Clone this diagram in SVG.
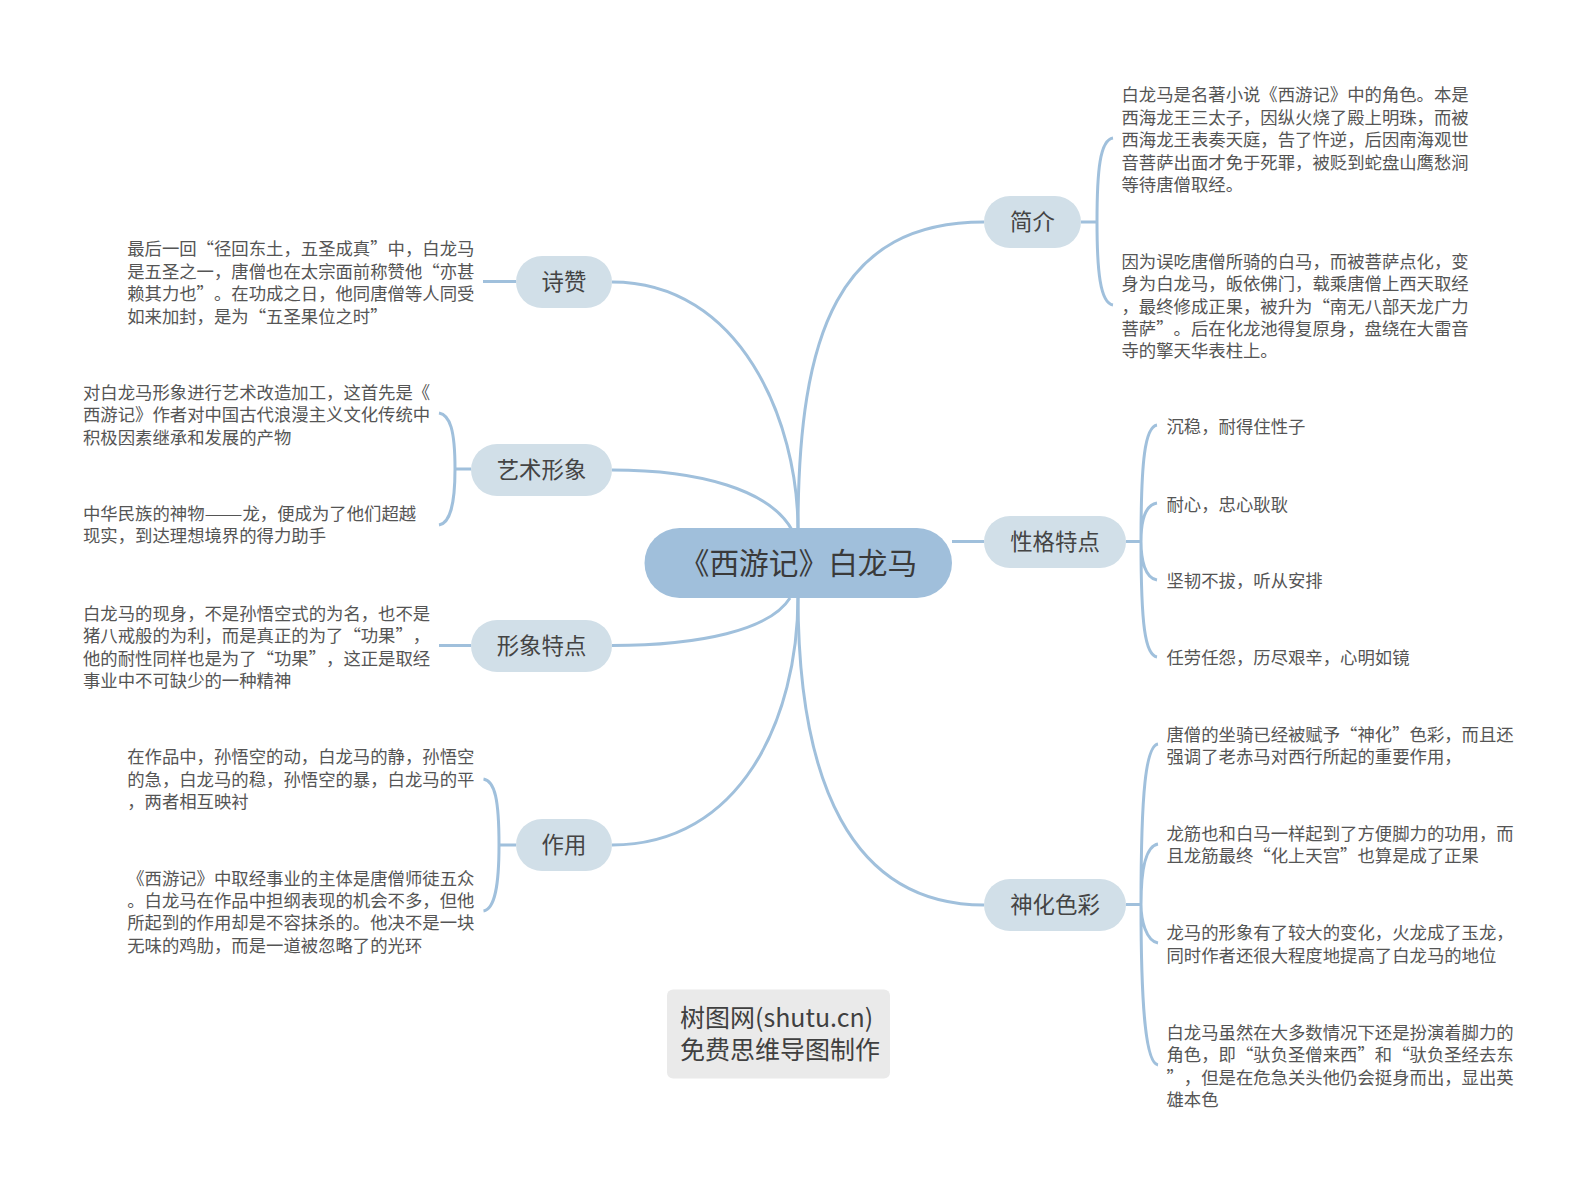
<svg xmlns="http://www.w3.org/2000/svg" width="1596" height="1192" viewBox="0 0 1596 1192">
<style>
text{font-family:"Noto Sans CJK SC","Noto Sans",sans-serif;text-spacing-trim:space-all;}
.leaf{font-size:17.36px;fill:#555555;}
.sub{font-size:22.4px;fill:#444444;text-anchor:middle;}
.subn{fill:#d1dfe8;}
.conn{fill:none;stroke:#a0c0dc;stroke-width:3;stroke-linecap:butt;}
</style>
<rect width="1596" height="1192" fill="#ffffff"/>
<g id="connectors">
<path class="conn" d="M798 530C798 330 840 222 984 222"/>
<path class="conn" d="M798 530C798 420 740 282 612 282"/>
<path class="conn" d="M792 530C770 490 700 470 612 470"/>
<path class="conn" d="M790 598C770 630 700 645.500 612 645.500"/>
<path class="conn" d="M798 596C798 720 740 845 612 845"/>
<path class="conn" d="M798 596C798 780 850 905 984 905"/>
<path class="conn" d="M952 541.500H984"/>
<path class="conn" d="M1081 222H1097M1113 138C1100 140 1097 170 1097 222C1097 270 1100 303 1113 305"/>
<path class="conn" d="M1126 541.500H1141M1157 425C1145 427 1141 460 1141 541.500C1141 625 1145 655 1157 657M1157 503C1145 505 1141 520 1141 541.500C1141 560 1145 578 1157 580"/>
<path class="conn" d="M1126 904.500H1141M1158 744C1146 746 1141 790 1141 904.500C1141 1010 1146 1063 1158 1065M1158 844C1146 846 1141 870 1141 904.500C1141 920 1146 941 1158 943"/>
<path class="conn" d="M516 281.500H483"/>
<path class="conn" d="M471 469H455M439 413C450 415 455 430 455 469C455 505 450 523 439 525"/>
<path class="conn" d="M471 645.500H439"/>
<path class="conn" d="M516 845H499M483.500 779C495 781 499 800 499 845C499 885 495 909 483.500 911"/>
</g>
<g id="root"><rect x="644.500" y="528" width="307.500" height="70" rx="35" fill="#a0bfdb"/><text x="798.500" y="574" font-size="29.700" fill="#3a3a3a" text-anchor="middle">《西游记》白龙马</text></g>
<g id="n-jianjie"><rect class="subn" x="984" y="196" width="97" height="52" rx="26"/><text class="sub" x="1032.500" y="230">简介</text></g>
<g id="n-xingge"><rect class="subn" x="984" y="516" width="142" height="52" rx="26"/><text class="sub" x="1055" y="550">性格特点</text></g>
<g id="n-shenhua"><rect class="subn" x="984" y="879" width="142" height="52" rx="26"/><text class="sub" x="1055" y="913">神化色彩</text></g>
<g id="n-shizan"><rect class="subn" x="516" y="256" width="96" height="52" rx="26"/><text class="sub" x="564" y="290">诗赞</text></g>
<g id="n-yishu"><rect class="subn" x="471" y="444" width="141" height="52" rx="26"/><text class="sub" x="541.500" y="478">艺术形象</text></g>
<g id="n-xingxiang"><rect class="subn" x="471" y="620" width="141" height="52" rx="26"/><text class="sub" x="541.500" y="654">形象特点</text></g>
<g id="n-zuoyong"><rect class="subn" x="516" y="819" width="96" height="52" rx="26"/><text class="sub" x="564" y="853">作用</text></g>
<g id="l-jj1"><text class="leaf" y="101.300"><tspan x="1121.500" dy="0">白龙马是名著小说《西游记》中的角色。本是</tspan><tspan x="1121.500" dy="22.400">西海龙王三太子，因纵火烧了殿上明珠，而被</tspan><tspan x="1121.500" dy="22.400">西海龙王表奏天庭，告了忤逆，后因南海观世</tspan><tspan x="1121.500" dy="22.400">音菩萨出面才免于死罪，被贬到蛇盘山鹰愁涧</tspan><tspan x="1121.500" dy="22.400">等待唐僧取经。</tspan></text></g>
<g id="l-jj2"><text class="leaf" y="267.700"><tspan x="1121.500" dy="0">因为误吃唐僧所骑的白马，而被菩萨点化，变</tspan><tspan x="1121.500" dy="22.400">身为白龙马，皈依佛门，载乘唐僧上西天取经</tspan><tspan x="1121.500" dy="22.400">，最终修成正果，被升为“南无八部天龙广力</tspan><tspan x="1121.500" dy="22.400">菩萨”。后在化龙池得复原身，盘绕在大雷音</tspan><tspan x="1121.500" dy="22.400">寺的擎天华表柱上。</tspan></text></g>
<g id="l-xg1"><text class="leaf" x="1166.500" y="433">沉稳，耐得住性子</text></g>
<g id="l-xg2"><text class="leaf" x="1166.500" y="511">耐心，忠心耿耿</text></g>
<g id="l-xg3"><text class="leaf" x="1166.500" y="587">坚韧不拔，听从安排</text></g>
<g id="l-xg4"><text class="leaf" x="1166.500" y="664">任劳任怨，历尽艰辛，心明如镜</text></g>
<g id="l-sh1"><text class="leaf" y="741"><tspan x="1166.500" dy="0">唐僧的坐骑已经被赋予“神化”色彩，而且还</tspan><tspan x="1166.500" dy="22.400">强调了老赤马对西行所起的重要作用，</tspan></text></g>
<g id="l-sh2"><text class="leaf" y="840"><tspan x="1166.500" dy="0">龙筋也和白马一样起到了方便脚力的功用，而</tspan><tspan x="1166.500" dy="22.400">且龙筋最终“化上天宫”也算是成了正果</tspan></text></g>
<g id="l-sh3"><text class="leaf" y="939.300"><tspan x="1166.500" dy="0">龙马的形象有了较大的变化，火龙成了玉龙，</tspan><tspan x="1166.500" dy="22.400">同时作者还很大程度地提高了白龙马的地位</tspan></text></g>
<g id="l-sh4"><text class="leaf" y="1038.700"><tspan x="1166.500" dy="0">白龙马虽然在大多数情况下还是扮演着脚力的</tspan><tspan x="1166.500" dy="22.400">角色，即“驮负圣僧来西”和“驮负圣经去东</tspan><tspan x="1166.500" dy="22.400">”，但是在危急关头他仍会挺身而出，显出英</tspan><tspan x="1166.500" dy="22.400">雄本色</tspan></text></g>
<g id="l-sz"><text class="leaf" y="255.400"><tspan x="127.200" dy="0">最后一回“径回东土，五圣成真”中，白龙马</tspan><tspan x="127.200" dy="22.400">是五圣之一，唐僧也在太宗面前称赞他“亦甚</tspan><tspan x="127.200" dy="22.400">赖其力也”。在功成之日，他同唐僧等人同受</tspan><tspan x="127.200" dy="22.400">如来加封，是为“五圣果位之时”</tspan></text></g>
<g id="l-ys1"><text class="leaf" y="399"><tspan x="83" dy="0">对白龙马形象进行艺术改造加工，这首先是《</tspan><tspan x="83" dy="22.400">西游记》作者对中国古代浪漫主义文化传统中</tspan><tspan x="83" dy="22.400">积极因素继承和发展的产物</tspan></text></g>
<g id="l-ys2"><text class="leaf" y="520"><tspan x="83" dy="0">中华民族的神物<tspan textLength="38" lengthAdjust="spacingAndGlyphs">——</tspan>龙，便成为了他们超越</tspan><tspan x="83" dy="22.400">现实，到达理想境界的得力助手</tspan></text></g>
<g id="l-xx"><text class="leaf" y="619.800"><tspan x="83" dy="0">白龙马的现身，不是孙悟空式的为名，也不是</tspan><tspan x="83" dy="22.400">猪八戒般的为利，而是真正的为了“功果”，</tspan><tspan x="83" dy="22.400">他的耐性同样也是为了“功果”，这正是取经</tspan><tspan x="83" dy="22.400">事业中不可缺少的一种精神</tspan></text></g>
<g id="l-zy1"><text class="leaf" y="763.300"><tspan x="127.200" dy="0">在作品中，孙悟空的动，白龙马的静，孙悟空</tspan><tspan x="127.200" dy="22.400">的急，白龙马的稳，孙悟空的暴，白龙马的平</tspan><tspan x="127.200" dy="22.400">，两者相互映衬</tspan></text></g>
<g id="l-zy2"><text class="leaf" y="884.500"><tspan x="127.200" dy="0">《西游记》中取经事业的主体是唐僧师徒五众</tspan><tspan x="127.200" dy="22.400">。白龙马在作品中担纲表现的机会不多，但他</tspan><tspan x="127.200" dy="22.400">所起到的作用却是不容抹杀的。他决不是一块</tspan><tspan x="127.200" dy="22.400">无味的鸡肋，而是一道被忽略了的光环</tspan></text></g>
<g id="watermark"><rect x="667" y="989.500" width="223" height="89" rx="6" fill="#eaeaea"/><text font-size="25" fill="#404040"><tspan x="680" y="1027">树图网(shutu.cn)</tspan><tspan x="680" y="1059">免费思维导图制作</tspan></text></g>
</svg>
